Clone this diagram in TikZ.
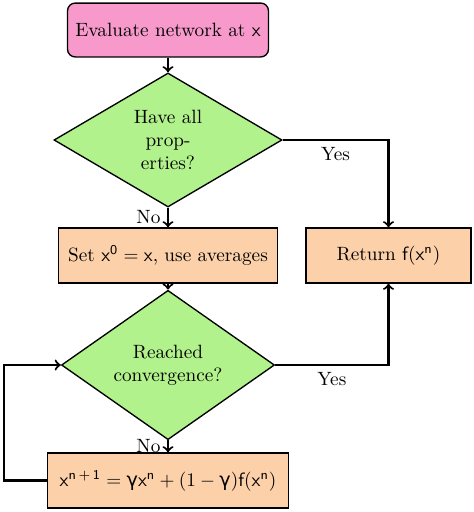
\documentclass[tikz,border=0pt]{standalone}
\usepackage{fontspec}
\newfontfamily\gkfont{DejaVu Sans}
\usetikzlibrary{shapes.geometric}
\definecolor{evalpink}{RGB}{247,154,203}
\definecolor{testgreen}{RGB}{178,242,140}
\definecolor{steppeach}{RGB}{252,208,168}
\newcommand{\gam}{\mbox{\gkfont γ}}
\begin{document}
\begin{tikzpicture}[x=0.52pt,y=-0.52pt]
        \tikzstyle{startbox}=[rectangle,rounded corners=4pt,draw,line width=0.7pt,fill=evalpink,minimum width=104.5pt,minimum height=28pt,inner sep=2pt]
        \tikzstyle{testbox}=[diamond,draw,line width=0.7pt,fill=testgreen,align=center,inner sep=0pt]
        \tikzstyle{actbox}=[rectangle,draw,line width=0.7pt,fill=steppeach,minimum height=28.6pt,inner sep=2pt]
        \tikzstyle{link}=[->,line width=1.1pt]
        \useasboundingbox (0,0) rectangle (474,512);
        \node[startbox] (eval) at (168,30) {Evaluate network at $\mathsf{x}$};
        \node[testbox,minimum width=118.6pt,minimum height=69.7pt] (props) at (168,140) {Have all\\prop-\\erties?};
        \node[actbox,minimum width=113.9pt] (init) at (168,255.5) {Set $\mathsf{x}^{\mathsf{0}}=\mathsf{x}$, use averages};
        \node[actbox,minimum width=85.8pt] (ret) at (388.5,255.5) {Return $\mathsf{f}(\mathsf{x}^{\mathsf{n}})$};
        \node[testbox,minimum width=110.8pt,minimum height=64.5pt] (conv) at (168,365) {Reached\\convergence?};
        \node[actbox,minimum width=125.3pt] (upd) at (168,480.5) {$\mathsf{x}^{\mathsf{n}\,+\,\mathsf{1}}=\gam\mathsf{x}^{\mathsf{n}}+(1-\gam)\mathsf{f}(\mathsf{x}^{\mathsf{n}})$};
        \coordinate (back) at (4,480.5);
        \draw[link] (eval) -- (props);
        \draw[link] (props) -- node[left] {No} (init);
        \draw[link] (props.east) -| node[pos=0.25,below] {Yes} (ret);
        \draw[link] (init) -- (conv);
        \draw[link] (conv.east) -| node[pos=0.25,below] {Yes} (ret);
        \draw[link] (conv) -- node[left] {No} (upd);
        \draw[link] (upd.west) -- (back) |- (conv.west);
    \end{tikzpicture}
\end{document}
